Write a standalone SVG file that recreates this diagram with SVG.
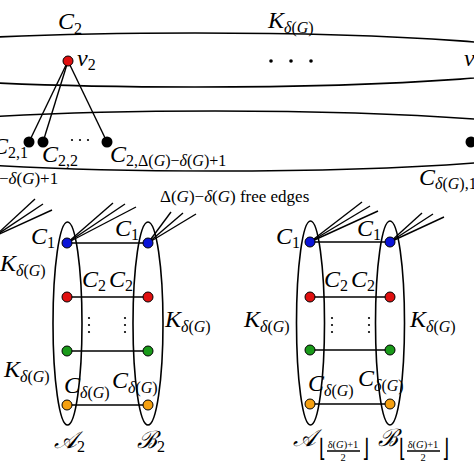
<svg xmlns="http://www.w3.org/2000/svg" width="474" height="474" viewBox="0 0 474 474">
<style>
.ol{fill:none;stroke:#000;stroke-width:1.6}
.ln{stroke:#000;stroke-width:1.4;fill:none}
.t{font-family:"Liberation Serif","DejaVu Serif",serif;font-style:italic;font-size:24px;fill:#000}
.s{font-size:16px}
.up{font-style:normal}
.sm{font-family:"Liberation Serif","DejaVu Serif",serif;font-size:17px;fill:#000}
.fr{font-family:"Liberation Serif","DejaVu Serif",serif;font-size:10.5px;fill:#000}
.br{font-family:"DejaVu Sans",sans-serif;font-size:18px;fill:#000}
.bk{fill:#000}
.v{stroke:#000;stroke-width:1}
.blue{fill:#0a14d8}.red{fill:#e01010}.green{fill:#1a9a1a}.orange{fill:#f5a010}
</style>
<rect width="474" height="474" fill="#fff"/>
<g id="connectors">
<line class="ln" x1="68" y1="61" x2="29" y2="142"/>
<line class="ln" x1="68" y1="61" x2="43" y2="142"/>
<line class="ln" x1="68" y1="61" x2="107" y2="142"/>
<line class="ln" x1="-5" y1="236" x2="35" y2="199"/>
<line class="ln" x1="-5" y1="236" x2="43" y2="204"/>
<line class="ln" x1="-5" y1="236" x2="52" y2="210"/>
<line class="ln" x1="67" y1="243" x2="113" y2="203"/>
<line class="ln" x1="67" y1="243" x2="125" y2="204"/>
<line class="ln" x1="67" y1="243" x2="136" y2="207"/>
<line class="ln" x1="148" y1="243" x2="171" y2="212"/>
<line class="ln" x1="148" y1="243" x2="183" y2="213"/>
<line class="ln" x1="148" y1="243" x2="196" y2="214"/>
<line class="ln" x1="310" y1="242" x2="362" y2="202"/>
<line class="ln" x1="310" y1="242" x2="370" y2="206"/>
<line class="ln" x1="310" y1="242" x2="378" y2="211"/>
<line class="ln" x1="390" y1="242" x2="422" y2="213"/>
<line class="ln" x1="390" y1="242" x2="433" y2="214"/>
<line class="ln" x1="390" y1="242" x2="444" y2="217"/>
<line class="ln" x1="67" y1="243" x2="148" y2="243"/>
<line class="ln" x1="67" y1="297" x2="148" y2="297"/>
<line class="ln" x1="67" y1="351" x2="148" y2="351"/>
<line class="ln" x1="67" y1="405" x2="148" y2="405"/>
<line class="ln" x1="310" y1="242" x2="390" y2="242"/>
<line class="ln" x1="310" y1="297" x2="390" y2="297"/>
<line class="ln" x1="310" y1="350" x2="390" y2="350"/>
<line class="ln" x1="310" y1="404" x2="390" y2="404"/>
</g>
<g id="clique-top">
<ellipse class="ol" cx="195" cy="60" rx="375" ry="27"/>
<text class="t" x="58" y="29">C<tspan class="s up" dy="5">2</tspan></text>
<text class="t" x="268" y="28">K<tspan class="s" dy="5">δ</tspan><tspan class="s up">(</tspan><tspan class="s">G</tspan><tspan class="s up">)</tspan></text>
<circle cx="271" cy="61" r="1.8" class="bk"/><circle cx="291" cy="61" r="1.8" class="bk"/><circle cx="311" cy="61" r="1.8" class="bk"/>
</g>
<g id="v2"><circle class="v red" cx="68" cy="61" r="5"/><text class="t" x="77" y="66">v<tspan class="s up" dy="4">2</tspan></text></g>
<g id="v-right"><text class="t" x="464" y="66">v</text></g>
<g id="clique-second">
<ellipse class="ol" cx="215" cy="141" rx="380" ry="30"/>
<circle cx="72" cy="140" r="1.1" class="bk"/><circle cx="80" cy="140" r="1.1" class="bk"/><circle cx="88" cy="140" r="1.1" class="bk"/>
</g>
<g id="c21"><circle class="bk" cx="29" cy="142" r="5.5"/><text class="t" x="-8" y="154">C<tspan class="s up" dy="4">2,1</tspan></text></g>
<g id="c22"><circle class="bk" cx="43" cy="142" r="5.5"/><text class="t" x="42" y="162">C<tspan class="s up" dy="4">2,2</tspan></text></g>
<g id="c2d"><circle class="bk" cx="107" cy="142" r="5.5"/><text class="t" x="110" y="162">C<tspan class="s up" dy="4">2,Δ(</tspan><tspan class="s">G</tspan><tspan class="s up">)−</tspan><tspan class="s">δ</tspan><tspan class="s up">(</tspan><tspan class="s">G</tspan><tspan class="s up">)+1</tspan></text></g>
<g id="c1cut"><text class="sm" x="-1" y="184">−<tspan font-style="italic">δ</tspan>(<tspan font-style="italic">G</tspan>)+1</text></g>
<g id="cdright"><circle class="bk" cx="471" cy="142" r="5.5"/><text class="t" x="419" y="185">C<tspan class="s" dy="4">δ</tspan><tspan class="s up">(</tspan><tspan class="s">G</tspan><tspan class="s up">),1</tspan></text></g>
<g id="free-label"><text class="sm" x="160" y="202">Δ(<tspan font-style="italic">G</tspan>)−<tspan font-style="italic">δ</tspan>(<tspan font-style="italic">G</tspan>) free edges</text></g>
<g id="kleft"><text class="t" x="0" y="271">K<tspan class="s" dy="5">δ</tspan><tspan class="s up">(</tspan><tspan class="s">G</tspan><tspan class="s up">)</tspan></text></g>
<g id="A2">
<ellipse class="ol" cx="67.5" cy="323.5" rx="14.5" ry="101.5"/>
<text class="t" x="4" y="377">K<tspan class="s" dy="5">δ</tspan><tspan class="s up">(</tspan><tspan class="s">G</tspan><tspan class="s up">)</tspan></text>
<circle class="v blue" cx="67" cy="243" r="5"/>
<circle class="v red" cx="67" cy="297" r="5"/>
<circle class="v green" cx="67" cy="351" r="5"/>
<circle class="v orange" cx="67" cy="405" r="5"/>
<text class="t" x="31" y="244">C<tspan class="s up" dy="4">1</tspan></text>
<text class="t" x="82" y="287">C<tspan class="s up" dy="4">2</tspan></text>
<text class="t" x="64" y="393">C<tspan class="s" dy="5">δ</tspan><tspan class="s up">(</tspan><tspan class="s">G</tspan><tspan class="s up">)</tspan></text>
<text class="t" x="54" y="448" font-family="'DejaVu Serif',serif">𝒜<tspan class="s up" dy="4">2</tspan></text>
</g>
<g id="B2">
<ellipse class="ol" cx="148" cy="323.5" rx="15" ry="101.5"/>
<circle class="v blue" cx="148" cy="243" r="5"/>
<circle class="v red" cx="148" cy="297" r="5"/>
<circle class="v green" cx="148" cy="351" r="5"/>
<circle class="v orange" cx="148" cy="405" r="5"/>
<text class="t" x="115" y="236">C<tspan class="s up" dy="4">1</tspan></text>
<text class="t" x="109" y="287">C<tspan class="s up" dy="4">2</tspan></text>
<text class="t" x="112" y="388">C<tspan class="s" dy="5">δ</tspan><tspan class="s up">(</tspan><tspan class="s">G</tspan><tspan class="s up">)</tspan></text>
<text class="t" x="165" y="327">K<tspan class="s" dy="5">δ</tspan><tspan class="s up">(</tspan><tspan class="s">G</tspan><tspan class="s up">)</tspan></text>
<text class="t" x="137" y="448">ℬ<tspan class="s up" dy="4">2</tspan></text>
</g>
<g id="vdots-left" class="bk">
<circle cx="89" cy="318" r="1.1"/><circle cx="89" cy="325" r="1.1"/><circle cx="89" cy="332" r="1.1"/>
<circle cx="125" cy="318" r="1.1"/><circle cx="125" cy="325" r="1.1"/><circle cx="125" cy="332" r="1.1"/>
</g>
<g id="Ak">
<ellipse class="ol" cx="310.5" cy="323" rx="14" ry="102"/>
<circle class="v blue" cx="310" cy="242" r="5"/>
<circle class="v red" cx="310" cy="297" r="5"/>
<circle class="v green" cx="310" cy="350" r="5"/>
<circle class="v orange" cx="310" cy="404" r="5"/>
<text class="t" x="276" y="244">C<tspan class="s up" dy="4">1</tspan></text>
<text class="t" x="324" y="287">C<tspan class="s up" dy="4">2</tspan></text>
<text class="t" x="308" y="391">C<tspan class="s" dy="5">δ</tspan><tspan class="s up">(</tspan><tspan class="s">G</tspan><tspan class="s up">)</tspan></text>
<text class="t" x="244" y="327">K<tspan class="s" dy="5">δ</tspan><tspan class="s up">(</tspan><tspan class="s">G</tspan><tspan class="s up">)</tspan></text>
<text class="t" x="293" y="446" font-family="'DejaVu Serif',serif">𝒜</text>
<text class="br" transform="translate(319,457) scale(1,1.4)">⌊</text>
<text class="fr" x="343" y="448" text-anchor="middle">δ(<tspan font-style="italic">G</tspan>)+1</text>
<line class="ln" x1="327" y1="451" x2="360" y2="451" stroke-width="0.7"/>
<text class="fr" x="343" y="461" text-anchor="middle">2</text>
<text class="br" transform="translate(362,457) scale(1,1.4)">⌋</text>
</g>
<g id="Bk">
<ellipse class="ol" cx="390" cy="323" rx="14.5" ry="102"/>
<circle class="v blue" cx="390" cy="242" r="5"/>
<circle class="v red" cx="390" cy="297" r="5"/>
<circle class="v green" cx="390" cy="350" r="5"/>
<circle class="v orange" cx="390" cy="404" r="5"/>
<text class="t" x="357" y="236">C<tspan class="s up" dy="4">1</tspan></text>
<text class="t" x="351" y="287">C<tspan class="s up" dy="4">2</tspan></text>
<text class="t" x="358" y="386">C<tspan class="s" dy="5">δ</tspan><tspan class="s up">(</tspan><tspan class="s">G</tspan><tspan class="s up">)</tspan></text>
<text class="t" x="410" y="327">K<tspan class="s" dy="5">δ</tspan><tspan class="s up">(</tspan><tspan class="s">G</tspan><tspan class="s up">)</tspan></text>
<text class="t" x="378" y="446">ℬ</text>
<text class="br" transform="translate(399,457) scale(1,1.4)">⌊</text>
<text class="fr" x="423" y="448" text-anchor="middle">δ(<tspan font-style="italic">G</tspan>)+1</text>
<line class="ln" x1="407" y1="451" x2="440" y2="451" stroke-width="0.7"/>
<text class="fr" x="423" y="461" text-anchor="middle">2</text>
<text class="br" transform="translate(442,457) scale(1,1.4)">⌋</text>
</g>
<g id="vdots-right" class="bk">
<circle cx="332" cy="318" r="1.1"/><circle cx="332" cy="325" r="1.1"/><circle cx="332" cy="332" r="1.1"/>
<circle cx="369" cy="318" r="1.1"/><circle cx="369" cy="325" r="1.1"/><circle cx="369" cy="332" r="1.1"/>
</g>
</svg>
